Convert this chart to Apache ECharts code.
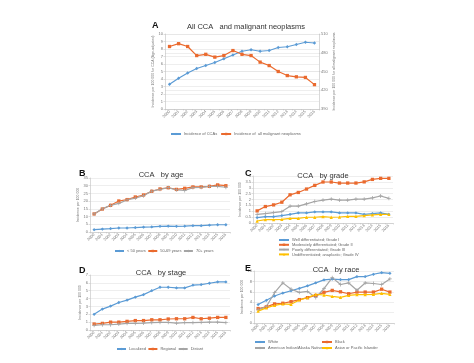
<!DOCTYPE html>
<html><head><meta charset="utf-8">
<script src="https://cdn.jsdelivr.net/npm/echarts@6/dist/echarts.min.js"></script>
<style>html,body{margin:0;padding:0;background:#fff}#c{width:474px;height:363px}</style>
</head><body><div id="c"></div>
<script>
const years = ['2000','2001','2002','2003','2004','2005','2006','2007','2008','2009','2010','2011','2012','2013','2014','2015','2016'];
// Panel A
const ccaAll = [3.3,4.1,4.8,5.4,5.8,6.2,6.7,7.2,7.7,7.9,7.7,7.8,8.2,8.3,8.6,8.9,8.8];
const malignantAll = [490,494.5,490,475.5,477.5,473,475.5,483.5,477.5,475.5,465,459.5,450,443.5,441.5,440.5,429];
// Panel B
const ageUnder50 = [1.5,1.9,2.2,2.6,2.6,2.9,3.1,3.3,3.7,3.8,3.7,3.8,4.1,4.1,4.4,4.7,4.7];
const age50to69 = [11.7,14.9,17.3,20.1,21,22.7,24,26.4,27.9,28.7,27.6,28.3,29.2,29.2,29.6,30.5,30];
const age70plus = [11.7,15,17.3,18.5,20.8,22,23.5,26.5,27.6,28.7,27.3,26.9,28.8,28.9,29.6,29.6,29];
// Panel C
const gradeI = [0.46,0.54,0.54,0.63,0.74,0.86,0.86,0.94,0.94,0.94,0.86,0.86,0.86,0.74,0.8,0.86,0.74];
const gradeII = [1.03,1.4,1.54,1.77,2.4,2.6,2.89,3.2,3.49,3.49,3.4,3.4,3.4,3.5,3.71,3.8,3.8];
const gradeIII = [0.74,0.8,0.89,0.97,1.43,1.43,1.63,1.83,1.94,2.03,1.94,1.94,2.03,2.03,2.14,2.3,2.1];
const gradeIV = [0.17,0.29,0.29,0.31,0.4,0.4,0.49,0.49,0.54,0.49,0.51,0.57,0.57,0.63,0.69,0.74,0.74];
// Panel D
const localized = [2.0,2.66,3.04,3.5,3.8,4.18,4.5,5.0,5.44,5.44,5.36,5.36,5.7,5.78,5.95,6.12,6.12];
const regional = [0.76,0.84,1.0,1.0,1.1,1.2,1.2,1.3,1.3,1.4,1.43,1.43,1.6,1.43,1.5,1.6,1.6];
const distant = [0.6,0.67,0.67,0.76,0.84,0.84,0.88,0.93,0.97,0.97,0.88,0.93,0.93,0.97,1.0,1.0,0.93];
// Panel E
const white = [3.54,4.37,5.19,5.76,6.2,6.65,7.15,7.72,8.29,8.42,8.35,8.35,8.92,8.92,9.37,9.68,9.56];
const black = [2.78,3.1,3.67,3.8,4.1,4.5,4.87,5.3,5.9,6.27,6.0,5.63,5.95,5.95,5.95,6.5,5.95];
const aian = [2.53,3.16,5.82,7.72,6.5,5.88,6.07,4.9,6.6,8.73,7.4,7.7,6.3,7.7,7.6,7.4,8.48];
const api = [2.28,2.9,3.4,3.67,3.6,4.43,4.87,5.5,5.38,5.13,4.94,5.3,5.44,5.44,5.5,5.7,5.5];

const BLUE='#5B9BD5', ORANGE='#EA6A2E', GRAY='#A5A5A5', YELLOW='#FFC000';
const PLUS='path://M4,0H6V4H10V6H6V10H4V6H0V4H4Z';
const FONT='Liberation Sans';

const grids = [
  {left:165, top:34, width:154, height:75},
  {left:90, top:178, width:140, height:54},
  {left:253, top:176, width:140, height:47},
  {left:90, top:275, width:140, height:55},
  {left:254, top:271, width:140, height:52}
];
function xAx(i){return {type:'category', gridIndex:i, data:years, boundaryGap:true,
  axisLine:{lineStyle:{color:'#bfbfbf',width:0.6}}, axisTick:{show:true,length:1.5,lineStyle:{color:'#bfbfbf',width:0.5}},
  axisLabel:{rotate:45, fontSize:4, color:'#777', margin:2, fontFamily:FONT, interval:0}};}
function yAx(i,min,max,intv,name,pos,gap){return {type:'value', gridIndex:i, min:min, max:max, interval:intv, position:pos||'left',
  name:name, nameLocation:'middle', nameGap:gap||8, nameTextStyle:{fontSize:3.5,color:'#777',fontFamily:FONT},
  axisLine:{show:true,lineStyle:{color:'#bfbfbf',width:0.6}}, axisTick:{show:true,length:1.5,lineStyle:{color:'#bfbfbf',width:0.5}},
  splitLine:{show:true,lineStyle:{color:'#e3e3e3',width:0.6}},
  axisLabel:{fontSize:4, color:'#777', margin:2, fontFamily:FONT}};}
function ser(name, data, xi, yi, color, sym){return {type:'line', name:name, data:data, xAxisIndex:xi, yAxisIndex:yi,
  symbol:sym, symbolSize:sym===PLUS?3.8:3.3, showSymbol:true,
  lineStyle:{color:color,width:1.2}, itemStyle:{color:color}, emphasis:{disabled:true}};}

const xAxes=[0,1,2,3,4].map(xAx);
const yAxes=[
  yAx(0,0,10,1,'Incidence per 100 000 for CCA (Age-adjusted)','left',7),
  yAx(0,390,510,30,'Incidence per 100 000 for all malignant neoplasms','right',11),
  yAx(1,0,35,5,'Incidence per 100 000','left',9),
  yAx(2,0,4,0.5,'Incidence per 100 000','left',9),
  yAx(3,0,7,1,'Incidence per 100 000','left',7),
  yAx(4,0,10,2,'Incidence per 100 000','left',8)
];
const legendStyle={textStyle:{fontSize:4,color:'#666',fontFamily:FONT,padding:[0,0,0,-2]},itemWidth:10,itemHeight:3,itemGap:3,padding:0};
const titleStyle={fontSize:7.5,fontWeight:'normal',color:'#333',fontFamily:FONT};
const letterStyle={fontSize:9,fontWeight:'bold',color:'#111',fontFamily:FONT};

const option={
  animation:false,
  backgroundColor:'#fff',
  title:[
    {text:'All CCA   and malignant neoplasms', left:241, top:18, textAlign:'center', textStyle:titleStyle},
    {text:'A', left:147, top:16, textStyle:letterStyle},
    {text:'CCA   by age', left:156, top:166, textAlign:'center', textStyle:titleStyle},
    {text:'B', left:74, top:164, textStyle:letterStyle},
    {text:'CCA   by grade', left:318, top:167, textAlign:'center', textStyle:titleStyle},
    {text:'C', left:240, top:164, textStyle:letterStyle},
    {text:'CCA   by stage', left:156, top:264, textAlign:'center', textStyle:titleStyle},
    {text:'D', left:74, top:261, textStyle:letterStyle},
    {text:'CCA   by race', left:331, top:261, textAlign:'center', textStyle:titleStyle},
    {text:'E', left:240, top:259, textStyle:letterStyle}
  ],
  legend:[
    Object.assign({data:['Incidence of CCAs','Incidence of  all malignant neoplasms'], left:170, top:132},legendStyle),
    Object.assign({data:['< 50 years','50-69 years','70+ years'], top:249},legendStyle, {left:114, itemGap:1.5, itemWidth:9}),
    Object.assign({data:['Well differentiated; Grade I','Moderately differentiated; Grade II','Poorly differentiated; Grade III','Undifferentiated; anaplastic; Grade IV'], left:278, top:238, orient:'vertical'},legendStyle,{itemGap:0.8}),
    Object.assign({data:['Localized','Regional','Distant'], top:347},legendStyle,{left:116, itemGap:1.5, itemWidth:9}),
    Object.assign({data:['White','American Indian/Alaska Native'], left:254, top:340, orient:'vertical'},legendStyle,{itemGap:2}),
    Object.assign({data:['Black','Asian or Pacific Islander'], left:321, top:340, orient:'vertical'},legendStyle,{itemGap:2})
  ],
  grid:grids,
  xAxis:xAxes,
  yAxis:yAxes,
  series:[
    ser('Incidence of CCAs',ccaAll,0,0,BLUE,'diamond'),
    ser('Incidence of  all malignant neoplasms',malignantAll,0,1,ORANGE,'rect'),
    ser('< 50 years',ageUnder50,1,2,BLUE,'diamond'),
    ser('50-69 years',age50to69,1,2,ORANGE,'rect'),
    ser('70+ years',age70plus,1,2,GRAY,PLUS),
    ser('Well differentiated; Grade I',gradeI,2,3,BLUE,'diamond'),
    ser('Moderately differentiated; Grade II',gradeII,2,3,ORANGE,'rect'),
    ser('Poorly differentiated; Grade III',gradeIII,2,3,GRAY,PLUS),
    ser('Undifferentiated; anaplastic; Grade IV',gradeIV,2,3,YELLOW,'triangle'),
    ser('Localized',localized,3,4,BLUE,'diamond'),
    ser('Regional',regional,3,4,ORANGE,'rect'),
    ser('Distant',distant,3,4,GRAY,PLUS),
    ser('White',white,4,5,BLUE,'diamond'),
    ser('Black',black,4,5,ORANGE,'rect'),
    ser('American Indian/Alaska Native',aian,4,5,GRAY,PLUS),
    ser('Asian or Pacific Islander',api,4,5,YELLOW,'triangle')
  ]
};
const chart=echarts.init(document.getElementById('c'),null,{renderer:'canvas'});
chart.setOption(option);
</script></body></html>
